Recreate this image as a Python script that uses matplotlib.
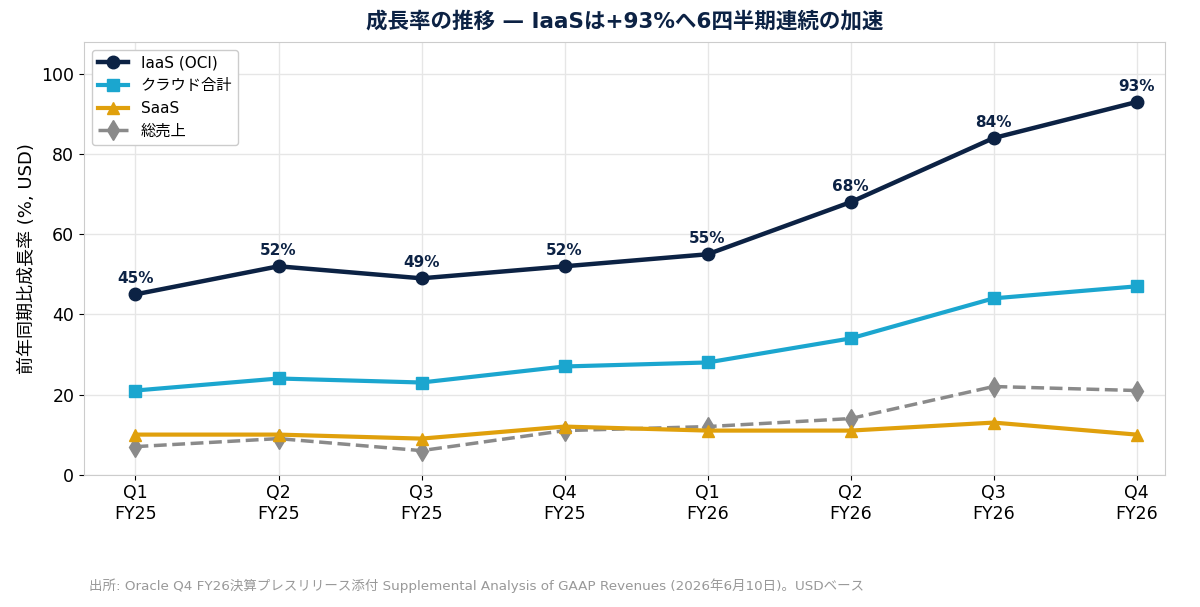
import matplotlib
matplotlib.use("Agg")
import matplotlib.pyplot as plt

plt.rcParams['font.family'] = ['DejaVu Sans', 'Noto Sans CJK JP']

# data
quarters = ["Q1\nFY25", "Q2\nFY25", "Q3\nFY25", "Q4\nFY25",
            "Q1\nFY26", "Q2\nFY26", "Q3\nFY26", "Q4\nFY26"]
iaas = [45, 52, 49, 52, 55, 68, 84, 93]
cloud = [21, 24, 23, 27, 28, 34, 44, 47]
saas = [10, 10, 9, 12, 11, 11, 13, 10]
total = [7, 9, 6, 11, 12, 14, 22, 21]

x = list(range(len(quarters)))

fig, ax = plt.subplots(figsize=(12, 6.07), dpi=100)
fig.subplots_adjust(left=0.07, right=0.971, top=0.931, bottom=0.218)

ax.plot(x, total, color="#8a8a8a", lw=2.5, ls="--", marker="d", ms=10, label="総売上", zorder=2)
ax.plot(x, saas, color="#e0a00c", lw=3, marker="^", ms=9, label="SaaS", zorder=3)
ax.plot(x, cloud, color="#1ba6cf", lw=3, marker="s", ms=8, label="クラウド合計", zorder=4)
ax.plot(x, iaas, color="#0c2244", lw=3.2, marker="o", ms=9, label="IaaS (OCI)", zorder=5)

for xi, v in zip(x, iaas):
    ax.annotate(f"{v}%", (xi, v), xytext=(0, 6), textcoords="offset points",
                ha="center", va="bottom", fontsize=11, fontweight="bold", color="#0c2244")

ax.set_xlim(-0.36, 7.2)
ax.set_ylim(0, 108)
ax.set_xticks(x)
ax.set_xticklabels(quarters, fontsize=12.5)
ax.set_yticks([0, 20, 40, 60, 80, 100])
ax.tick_params(axis="y", labelsize=12.5)
ax.set_ylabel("前年同期比成長率 (%, USD)", fontsize=13)
ax.grid(True, color="#e6e6e6", lw=1)
ax.set_axisbelow(True)
for s in ax.spines.values():
    s.set_color("#cccccc")

# reorder legend
h, l = ax.get_legend_handles_labels()
order = [3, 2, 1, 0]
ax.legend([h[i] for i in order], [l[i] for i in order], loc="upper left",
          fontsize=11, framealpha=1, edgecolor="#cccccc")

ax.set_title("成長率の推移 — IaaSは+93%へ6四半期連続の加速", fontsize=15.5,
             fontweight="bold", color="#0c2244", pad=10)

fig.text(0.074, 0.028, "出所: Oracle Q4 FY26決算プレスリリース添付 Supplemental Analysis of GAAP Revenues (2026年6月10日)。USDベース",
         fontsize=9.7, color="#999999")

fig.savefig("out.png")
